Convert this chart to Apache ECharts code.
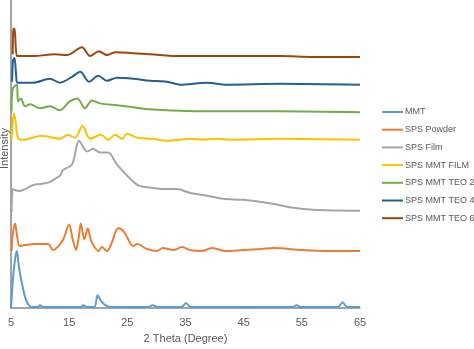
<!DOCTYPE html>
<html>
<head>
<meta charset="utf-8">
<script src="https://cdn.jsdelivr.net/npm/echarts@6/dist/echarts.min.js"></script>
<style>
html,body{margin:0;padding:0;background:#fff;}
#chart{width:474px;height:349px;}
</style>
</head>
<body>
<div id="chart"></div>
<script>
// 2 Theta (degree) ticks
const xTicks = [5, 15, 25, 35, 45, 55, 65];
const seriesNames = ['MMT', 'SPS Powder', 'SPS Film', 'SPS MMT FILM', 'SPS MMT TEO 2%', 'SPS MMT TEO 4%', 'SPS MMT TEO 6%'];
const seriesColors = ['#5B9BD5', '#ED7D31', '#A5A5A5', '#FFC000', '#70AD47', '#255E91', '#9E480E'];

// [2theta, intensity (a.u., stacked offsets as plotted)]
const mmt = [[5.0,0],[5.5,40],[6.0,58],[6.3,45],[6.55,35],[7.0,22],[7.6,8],[8.6,1],[9.6,1],[10.0,3],[10.5,1],[13,1],[17.0,1],[17.4,3],[18,1],[19.3,1],[19.9,13],[20.5,7],[21.2,3],[22,1],[28.5,1],[29.4,3],[30.3,1],[34.3,1],[35.1,5],[35.9,1],[37.5,1],[53.5,1],[54.1,3],[54.8,1],[61.2,1],[62.0,6],[62.8,1],[65,1]];
const spsPowder = [[5.1,58],[5.3,75],[5.7,86],[6.0,75],[6.5,63],[7.5,64],[9,65],[10.5,65],[11.4,65],[12.2,59],[13.0,62],[14.0,70],[15.0,85],[15.6,70],[16.2,59],[16.6,70],[17.0,86],[17.6,70],[18.2,81],[18.8,68],[20.1,58],[20.6,62],[21.5,58],[22.3,66],[23.4,81],[24.0,80],[24.6,76],[26.0,63],[26.7,65],[28.4,60],[30.1,58],[31.1,61],[32.9,59],[34.4,62],[35.8,59],[37.8,58],[39.6,61],[41.8,58],[45,59],[48,60],[50,61],[55,59],[60,58],[65,58]];
const spsFilm = [[5.1,98],[5.3,121],[5.6,120],[6.5,119],[8.8,125],[10.0,126],[11.7,128],[12.2,130],[13.5,135],[13.9,140],[15.5,146],[16.7,170],[18.1,159],[19.1,162],[20.3,158],[21.7,158],[23.2,146],[24.9,135],[26.8,125],[29.4,122],[31.1,121],[33.5,121],[35.8,117],[38.0,115],[41.5,111],[44.9,110],[50.0,106],[53.5,102],[56.9,100],[65,99]];
const spsMmtFilm = [[5.1,171],[5.5,198],[5.8,190],[6.2,173],[7.1,171],[10.3,175],[13.4,172],[14.8,176],[16.0,173],[17.3,185],[18.6,172],[20.5,176],[21.7,171],[22.9,176],[24.1,172],[24.9,177],[26.8,173],[29.4,172],[31.8,170],[34.1,171],[35.8,172],[38.0,171],[40.4,172],[42.7,171],[51.3,172],[65,171]];
const teo2 = [[5.1,200],[5.3,223],[6.0,227],[6.2,210],[6.7,213],[7.4,205],[8.3,207],[10.0,203],[11.7,205],[13.4,201],[15.1,210],[16.4,213],[17.7,203],[18.9,211],[20.3,208],[23.2,206],[26.0,204],[28.9,202],[31.8,201],[37.5,200],[39.7,200],[51.3,200],[65,199]];
const teo4 = [[5.2,230],[5.35,252],[5.6,254],[5.9,235],[6.1,229],[8.8,229],[11.7,233],[13.4,229],[15.5,235],[16.9,240],[18.4,230],[20.0,236],[21.5,231],[23.2,234],[26.0,233],[28.9,231],[31.8,230],[34.1,227],[38.7,229],[42.1,227],[51.3,228],[65,227]];
const teo6 = [[5.3,258],[5.4,283],[5.6,284],[6.0,256],[6.5,256],[8.8,256],[12.6,258],[14.6,257],[17.2,265],[18.6,256],[20.1,261],[21.5,257],[22.9,260],[26.0,259],[28.9,258],[34.1,256],[39.7,256],[51.3,256],[56.9,255],[65,255]];

const allData = [mmt, spsPowder, spsFilm, spsMmtFilm, teo2, teo4, teo6];
const FONT = "'Liberation Sans',Arial,sans-serif";

const chart = echarts.init(document.getElementById('chart'), null, {renderer: 'canvas'});
chart.setOption({
  animation: false,
  backgroundColor: '#fff',
  grid: {left: 11, right: 114, top: 0, bottom: 36, containLabel: false},
  xAxis: {
    type: 'value', min: xTicks[0], max: xTicks[xTicks.length - 1], interval: 10,
    name: '2 Theta (Degree)', nameLocation: 'middle', nameGap: 24,
    nameTextStyle: {color: '#595959', fontSize: 11, fontFamily: FONT},
    axisLine: {lineStyle: {color: '#868686', width: 1.5}},
    axisTick: {show: false},
    splitLine: {show: false},
    axisLabel: {color: '#595959', fontSize: 11, fontFamily: FONT, margin: 9}
  },
  yAxis: {
    type: 'value', min: 0, max: 313,
    axisLine: {show: true, onZero: false, lineStyle: {color: '#868686', width: 1.5}},
    axisTick: {show: false},
    axisLabel: {show: false},
    splitLine: {show: false}
  },
  legend: {
    orient: 'vertical', left: 382, top: 106, padding: 0,
    icon: 'rect', itemWidth: 21, itemHeight: 2, itemGap: 5.7,
    textStyle: {color: '#595959', fontSize: 9, fontFamily: FONT, lineHeight: 12, padding: [0,0,0,-3]},
    data: seriesNames
  },
  graphic: [{
    type: 'text', x: 5, y: 148.5, rotation: Math.PI / 2,
    style: {text: 'Intensity', fill: '#595959', font: '11px ' + FONT, textAlign: 'center', textVerticalAlign: 'middle'}
  }],
  series: allData.map((d, i) => ({
    name: seriesNames[i], type: 'line', data: d,
    smooth: 0.3, showSymbol: false, symbol: 'none',
    lineStyle: {color: seriesColors[i], width: 2},
    itemStyle: {color: seriesColors[i]}
  }))
});
</script>
</body>
</html>
